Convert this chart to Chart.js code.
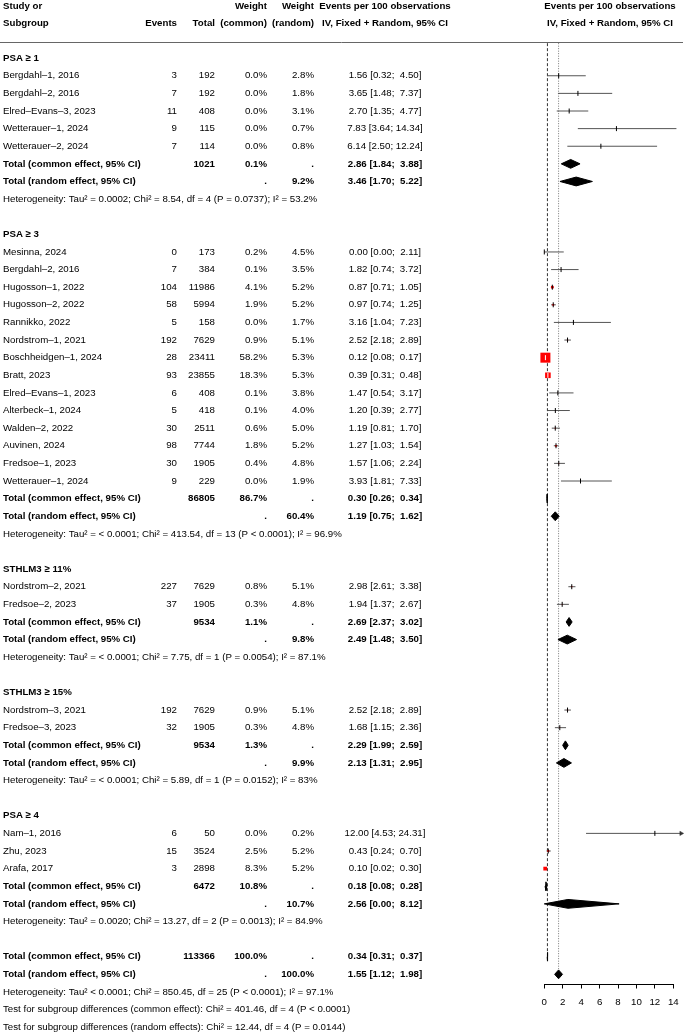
<!DOCTYPE html>
<html lang="en">
<head>
<meta charset="UTF-8">
<title>Forest plot - events per 100 observations</title>
<script src="https://cdn.jsdelivr.net/npm/chart.js"></script>
<style>
  * { margin: 0; padding: 0; box-sizing: border-box; }
  html, body { background: #fff; overflow: hidden; }
  #forest { display: block; }
</style>
</head>
<body>
<canvas id="forest" width="685" height="1035"></canvas>
<script>
// ---------- data ----------
const subgroups = ['PSA ≥ 1', 'PSA ≥ 3', 'STHLM3 ≥ 11%', 'STHLM3 ≥ 15%', 'PSA ≥ 4'];

const studyGroup = [0, 0, 0, 0, 0,
  1, 1, 1, 1, 1, 1, 1, 1, 1, 1, 1, 1, 1, 1,
  2, 2,
  3, 3,
  4, 4, 4];
const studyNames = [
  'Bergdahl–1, 2016', 'Bergdahl–2, 2016', 'Elred–Evans–3, 2023', 'Wetterauer–1, 2024', 'Wetterauer–2, 2024',
  'Mesinna, 2024', 'Bergdahl–2, 2016', 'Hugosson–1, 2022', 'Hugosson–2, 2022', 'Rannikko, 2022',
  'Nordstrom–1, 2021', 'Boschheidgen–1, 2024', 'Bratt, 2023', 'Elred–Evans–1, 2023', 'Alterbeck–1, 2024',
  'Walden–2, 2022', 'Auvinen, 2024', 'Fredsoe–1, 2023', 'Wetterauer–1, 2024',
  'Nordstrom–2, 2021', 'Fredsoe–2, 2023',
  'Nordstrom–3, 2021', 'Fredsoe–3, 2023',
  'Nam–1, 2016', 'Zhu, 2023', 'Arafa, 2017'
];
const events = [3, 7, 11, 9, 7,
  0, 7, 104, 58, 5, 192, 28, 93, 6, 5, 30, 98, 30, 9,
  227, 37,
  192, 32,
  6, 15, 3];
const totals = [192, 192, 408, 115, 114,
  173, 384, 11986, 5994, 158, 7629, 23411, 23855, 408, 418, 2511, 7744, 1905, 229,
  7629, 1905,
  7629, 1905,
  50, 3524, 2898];
const weightCommon = [0.0, 0.0, 0.0, 0.0, 0.0,
  0.2, 0.1, 4.1, 1.9, 0.0, 0.9, 58.2, 18.3, 0.1, 0.1, 0.6, 1.8, 0.4, 0.0,
  0.8, 0.3,
  0.9, 0.3,
  0.0, 2.5, 8.3];
const weightRandom = [2.8, 1.8, 3.1, 0.7, 0.8,
  4.5, 3.5, 5.2, 5.2, 1.7, 5.1, 5.3, 5.3, 3.8, 4.0, 5.0, 5.2, 4.8, 1.9,
  5.1, 4.8,
  5.1, 4.8,
  0.2, 5.2, 5.2];
const estimate = [1.56, 3.65, 2.70, 7.83, 6.14,
  0.00, 1.82, 0.87, 0.97, 3.16, 2.52, 0.12, 0.39, 1.47, 1.20, 1.19, 1.27, 1.57, 3.93,
  2.98, 1.94,
  2.52, 1.68,
  12.00, 0.43, 0.10];
const ciLower = [0.32, 1.48, 1.35, 3.64, 2.50,
  0.00, 0.74, 0.71, 0.74, 1.04, 2.18, 0.08, 0.31, 0.54, 0.39, 0.81, 1.03, 1.06, 1.81,
  2.61, 1.37,
  2.18, 1.15,
  4.53, 0.24, 0.02];
const ciUpper = [4.50, 7.37, 4.77, 14.34, 12.24,
  2.11, 3.72, 1.05, 1.25, 7.23, 2.89, 0.17, 0.48, 3.17, 2.77, 1.70, 1.54, 2.24, 7.33,
  3.38, 2.67,
  2.89, 2.36,
  24.31, 0.70, 0.30];

const groupTotal = [1021, 86805, 9534, 9534, 6472];
const groupWeightCommon = [0.1, 86.7, 1.1, 1.3, 10.8];
const groupWeightRandom = [9.2, 60.4, 9.8, 9.9, 10.7];
const commonEst = [2.86, 0.30, 2.69, 2.29, 0.18];
const commonLower = [1.84, 0.26, 2.37, 1.99, 0.08];
const commonUpper = [3.88, 0.34, 3.02, 2.59, 0.28];
const randomEst = [3.46, 1.19, 2.49, 2.13, 2.56];
const randomLower = [1.70, 0.75, 1.48, 1.31, 0.00];
const randomUpper = [5.22, 1.62, 3.50, 2.95, 8.12];
const heterogeneity = [
  'Heterogeneity: Tau² = 0.0002; Chi² = 8.54, df = 4 (P = 0.0737); I² = 53.2%',
  'Heterogeneity: Tau² = < 0.0001; Chi² = 413.54, df = 13 (P < 0.0001); I² = 96.9%',
  'Heterogeneity: Tau² = < 0.0001; Chi² = 7.75, df = 1 (P = 0.0054); I² = 87.1%',
  'Heterogeneity: Tau² = < 0.0001; Chi² = 5.89, df = 1 (P = 0.0152); I² = 83%',
  'Heterogeneity: Tau² = 0.0020; Chi² = 13.27, df = 2 (P = 0.0013); I² = 84.9%'
];

const overallTotal = 113366;
const overallCommon = [0.34, 0.31, 0.37];   // est, lower, upper
const overallRandom = [1.55, 1.12, 1.98];
const overallNotes = [
  'Heterogeneity: Tau² < 0.0001; Chi² = 850.45, df = 25 (P < 0.0001); I² = 97.1%',
  'Test for subgroup differences (common effect): Chi² = 401.46, df = 4 (P < 0.0001)',
  'Test for subgroup differences (random effects): Chi² = 12.44, df = 4 (P = 0.0144)'
];

const xTicks = [0, 2, 4, 6, 8, 10, 12, 14];

// ---------- layout helpers ----------
const FAMILY = '"Liberation Sans", Arial, Helvetica, sans-serif';
const FS = 9.7;
const COL = { name: 3, events: 177, total: 215, wCommon: 267, wRandom: 314, ci: 385, plot: 610 };
const X_MIN = -0.2, X_MAX = 15.1, ARROW_AT = 14.85;
const DIAMOND_H = 0.25;

const pct = v => v.toFixed(1) + '%';
const ciText = (e, l, u) => e.toFixed(2) + ' [' + l.toFixed(2) + '; ' + u.toFixed(2).padStart(5, ' ') + ']';

// row index for every line of the table
const rows = [];
const studyRow = [], commonRow = [], randomRow = [];
let r = 0;
subgroups.forEach((g, gi) => {
  rows.push({ r: r++, kind: 'group', gi });
  studyNames.forEach((n, i) => {
    if (studyGroup[i] === gi) { studyRow[i] = r; rows.push({ r: r++, kind: 'study', i }); }
  });
  commonRow[gi] = r; rows.push({ r: r++, kind: 'common', gi });
  randomRow[gi] = r; rows.push({ r: r++, kind: 'random', gi });
  rows.push({ r: r++, kind: 'het', gi });
  r++;
});
const overallCommonRow = r++;
const overallRandomRow = r++;
const notesRow = r;

// ---------- datasets ----------
const datasets = [];

datasets.push({
  label: 'common effect', data: [{ x: overallCommon[0], y: -0.85 }, { x: overallCommon[0], y: overallCommonRow + 0.25 }],
  borderColor: '#333', borderWidth: 1, borderDash: [3, 2], pointRadius: 0, order: 30
});
datasets.push({
  label: 'random effect', data: [{ x: overallRandom[0], y: -0.85 }, { x: overallRandom[0], y: overallRandomRow }],
  borderColor: '#777', borderWidth: 1, borderDash: [1, 1.5], pointRadius: 0, order: 30
});

const ciData = [];
studyNames.forEach((n, i) => {
  ciData.push({ x: ciLower[i], y: studyRow[i] });
  ciData.push({ x: Math.min(ciUpper[i], ARROW_AT), y: studyRow[i] });
  ciData.push({ x: ciLower[i], y: null });
});
datasets.push({ label: 'CI', data: ciData, borderColor: '#555', borderWidth: 1, pointRadius: 0, order: 20 });

// square side grows with the common-effect weight
const sidePx = studyNames.map((n, i) => 1.31 * Math.sqrt(weightCommon[i]));
datasets.push({
  label: 'weight', showLine: false, clip: false,
  data: studyNames.map((n, i) => ({ x: estimate[i], y: studyRow[i] })),
  pointStyle: 'rect', pointRadius: sidePx.map(s => s / Math.SQRT2),
  pointBackgroundColor: 'red', pointBorderWidth: 0, order: 10
});

datasets.push({
  label: 'estimate', showLine: false, clip: false,
  data: studyNames.map((n, i) => ({ x: estimate[i], y: studyRow[i] })),
  pointStyle: 'line', pointRotation: 90, pointRadius: 2.5, pointBorderWidth: 1,
  pointBorderColor: studyNames.map((n, i) => {
    const w = (Math.min(ciUpper[i], X_MAX) - ciLower[i]) * 9.2;
    if (sidePx[i] > w + 2) return '#fff';
    return sidePx[i] > w ? 'rgba(0,0,0,0)' : '#000';
  }),
  order: 5
});

datasets.push({
  label: 'arrow', showLine: false, clip: false,
  data: studyNames.map((n, i) => ciUpper[i] > X_MAX ? { x: ARROW_AT, y: studyRow[i] } : null).filter(Boolean),
  pointStyle: 'triangle', pointRotation: 90, pointRadius: 2.5,
  pointBackgroundColor: '#333', pointBorderColor: '#333', pointBorderWidth: 0.5, order: 5
});

function addDiamond(row, est, lo, hi) {
  datasets.push({
    label: 'diamond', data: [{ x: lo, y: row }, { x: est, y: row - DIAMOND_H }, { x: hi, y: row }],
    borderColor: '#000', borderWidth: 1, pointRadius: 0, order: 8
  });
  datasets.push({
    label: 'diamond', data: [{ x: lo, y: row }, { x: est, y: row + DIAMOND_H }, { x: hi, y: row }],
    borderColor: '#000', borderWidth: 1, pointRadius: 0, fill: '-1', backgroundColor: '#000', order: 8
  });
}
subgroups.forEach((g, gi) => {
  addDiamond(commonRow[gi], commonEst[gi], commonLower[gi], commonUpper[gi]);
  addDiamond(randomRow[gi], randomEst[gi], randomLower[gi], randomUpper[gi]);
});
addDiamond(overallCommonRow, overallCommon[0], overallCommon[1], overallCommon[2]);
addDiamond(overallRandomRow, overallRandom[0], overallRandom[1], overallRandom[2]);

// ---------- table text, header rule and axis line ----------
const tablePlugin = {
  id: 'tableText',
  afterDraw(chart) {
    const ctx = chart.ctx;
    const ys = chart.scales.y, xs = chart.scales.x;
    const ypx = v => ys.getPixelForValue(v);
    ctx.save();
    ctx.fillStyle = '#000';
    ctx.textBaseline = 'middle';
    const put = (txt, px, row, align, bold) => {
      ctx.font = (bold ? 'bold ' : '') + FS + 'px ' + FAMILY;
      ctx.textAlign = align;
      ctx.fillText(txt, px, ypx(row));
    };

    // header
    put('Study or', COL.name, -2.92, 'left', true);
    put('Subgroup', COL.name, -2, 'left', true);
    put('Events', COL.events, -2, 'right', true);
    put('Total', COL.total, -2, 'right', true);
    put('Weight', COL.wCommon, -2.92, 'right', true);
    put('(common)', COL.wCommon, -2, 'right', true);
    put('Weight', COL.wRandom, -2.92, 'right', true);
    put('(random)', COL.wRandom, -2, 'right', true);
    put('Events per 100 observations', COL.ci, -2.92, 'center', true);
    put('IV, Fixed + Random, 95% CI', COL.ci, -2, 'center', true);
    put('Events per 100 observations', COL.plot, -2.92, 'center', true);
    put('IV, Fixed + Random, 95% CI', COL.plot, -2, 'center', true);

    ctx.strokeStyle = '#666';
    ctx.lineWidth = 1;
    const hy = Math.round(ypx(-0.92)) + 0.5;
    ctx.beginPath(); ctx.moveTo(0, hy); ctx.lineTo(683, hy); ctx.stroke();

    rows.forEach(row => {
      if (row.kind === 'group') {
        put(subgroups[row.gi], COL.name, row.r, 'left', true);
      } else if (row.kind === 'study') {
        const i = row.i;
        put(studyNames[i], COL.name, row.r, 'left', false);
        put(String(events[i]), COL.events, row.r, 'right', false);
        put(String(totals[i]), COL.total, row.r, 'right', false);
        put(pct(weightCommon[i]), COL.wCommon, row.r, 'right', false);
        put(pct(weightRandom[i]), COL.wRandom, row.r, 'right', false);
        put(ciText(estimate[i], ciLower[i], ciUpper[i]), COL.ci, row.r, 'center', false);
      } else if (row.kind === 'common') {
        const g = row.gi;
        put('Total (common effect, 95% CI)', COL.name, row.r, 'left', true);
        put(String(groupTotal[g]), COL.total, row.r, 'right', true);
        put(pct(groupWeightCommon[g]), COL.wCommon, row.r, 'right', true);
        put('.', COL.wRandom, row.r, 'right', true);
        put(ciText(commonEst[g], commonLower[g], commonUpper[g]), COL.ci, row.r, 'center', true);
      } else if (row.kind === 'random') {
        const g = row.gi;
        put('Total (random effect, 95% CI)', COL.name, row.r, 'left', true);
        put('.', COL.wCommon, row.r, 'right', true);
        put(pct(groupWeightRandom[g]), COL.wRandom, row.r, 'right', true);
        put(ciText(randomEst[g], randomLower[g], randomUpper[g]), COL.ci, row.r, 'center', true);
      } else if (row.kind === 'het') {
        put(heterogeneity[row.gi], COL.name, row.r, 'left', false);
      }
    });

    put('Total (common effect, 95% CI)', COL.name, overallCommonRow, 'left', true);
    put(String(overallTotal), COL.total, overallCommonRow, 'right', true);
    put('100.0%', COL.wCommon, overallCommonRow, 'right', true);
    put('.', COL.wRandom, overallCommonRow, 'right', true);
    put(ciText(overallCommon[0], overallCommon[1], overallCommon[2]), COL.ci, overallCommonRow, 'center', true);
    put('Total (random effect, 95% CI)', COL.name, overallRandomRow, 'left', true);
    put('.', COL.wCommon, overallRandomRow, 'right', true);
    put('100.0%', COL.wRandom, overallRandomRow, 'right', true);
    put(ciText(overallRandom[0], overallRandom[1], overallRandom[2]), COL.ci, overallRandomRow, 'center', true);
    overallNotes.forEach((t, k) => put(t, COL.name, notesRow + k, 'left', false));

    // x axis line from first to last tick
    const ay = Math.round(chart.chartArea.bottom) + 0.5;
    ctx.strokeStyle = '#000';
    ctx.beginPath();
    ctx.moveTo(xs.getPixelForValue(xTicks[0]), ay);
    ctx.lineTo(xs.getPixelForValue(xTicks[xTicks.length - 1]), ay);
    ctx.stroke();
    ctx.restore();
  }
};

const noPad = s => { s.paddingLeft = 0; s.paddingRight = 0; s.paddingTop = 0; s.paddingBottom = 0; };

new Chart(document.getElementById('forest'), {
  type: 'line',
  data: { datasets: datasets },
  options: {
    responsive: false,
    animation: false,
    events: [],
    layout: { autoPadding: false, padding: { left: 542.46, right: 1.57, top: 0, bottom: 0 } },
    plugins: { legend: { display: false }, tooltip: { enabled: false } },
    scales: {
      x: {
        type: 'linear', min: X_MIN, max: X_MAX,
        afterBuildTicks: s => { s.ticks = xTicks.map(v => ({ value: v })); },
        afterFit: s => { s.height = 51.5; noPad(s); },
        grid: { display: true, drawOnChartArea: false, drawTicks: true, tickLength: 5, color: '#000' },
        border: { display: false },
        ticks: { color: '#000', padding: 8, maxRotation: 0, font: { family: FAMILY, size: FS } }
      },
      y: {
        type: 'linear', reverse: true, min: -3.3, max: 52.52, display: false,
        ticks: { display: false },
        afterFit: s => { noPad(s); }
      }
    }
  },
  plugins: [tablePlugin]
});
</script>
</body>
</html>
